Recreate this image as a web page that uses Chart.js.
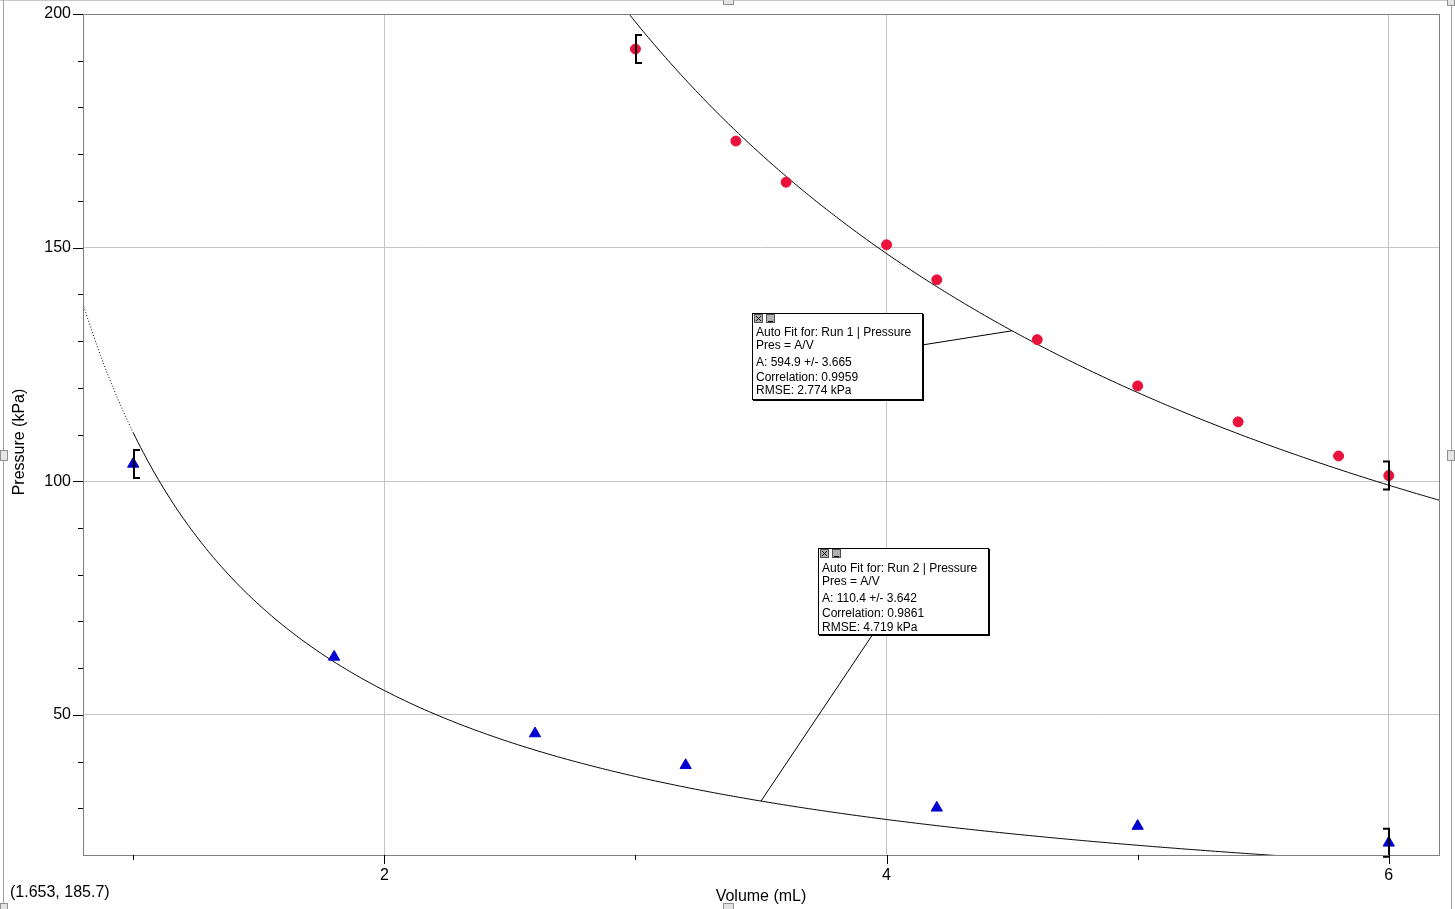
<!DOCTYPE html>
<html>
<head>
<meta charset="utf-8">
<script src="https://cdn.jsdelivr.net/npm/chart.js@4.4.1/dist/chart.umd.min.js"></script>
<style>
    html, body { margin: 0; padding: 0; background: #fff; overflow: hidden; }
    #contenedor { position: relative; width: 1455px; height: 909px; }
</style>
</head>
<body>
<div id="contenedor"><canvas id="grafica"></canvas></div>
<script>
// Run 1 (círculos rojos)
const run1Volumen = [3.0, 3.4, 3.6, 4.0, 4.2, 4.6, 5.0, 5.4, 5.8, 6.0];
const run1Presion = [192.5, 172.8, 164.0, 150.6, 143.1, 130.3, 120.4, 112.7, 105.4, 101.2];

// Run 2 (triángulos azules)
const run2Volumen = [1.0, 1.8, 2.6, 3.2, 4.2, 5.0, 6.0];
const run2Presion = [103.7, 62.4, 46.0, 39.2, 30.1, 26.2, 22.6];

// Parámetros de los ajustes Pres = A/V
const ajusteA = [594.9, 110.4];
const ajusteTextos = [
    ['Auto Fit for: Run 1 | Pressure', 'Pres = A/V', 'A: 594.9 +/- 3.665', 'Correlation: 0.9959', 'RMSE: 2.774 kPa'],
    ['Auto Fit for: Run 2 | Pressure', 'Pres = A/V', 'A: 110.4 +/- 3.642', 'Correlation: 0.9861', 'RMSE: 4.719 kPa']
];
const ajusteAncla = [4.5, 3.5]; // volumen donde la línea de la caja toca la curva

// Marcas de los ejes
const xMarcas = [2, 4, 6];
const xMarcasMenores = [1, 3, 5];
const yMarcas = [50, 100, 150, 200];
const yMarcasMenores = [30, 40, 60, 70, 80, 90, 110, 120, 130, 140, 160, 170, 180, 190];

const coordenadas = '(1.653, 185.7)';
const fuente = '"Liberation Sans", Arial, sans-serif';

// curva del ajuste A/V sobre un intervalo de volumen
function curvaAjuste(A, desde, hasta) {
    const puntos = [];
    for (let v = desde; v <= hasta + 1e-9; v += 0.01) {
        puntos.push({ x: v, y: A / v });
    }
    return puntos;
}

const puntosRun1 = run1Volumen.map((v, i) => ({ x: v, y: run1Presion[i] }));
const puntosRun2 = run2Volumen.map((v, i) => ({ x: v, y: run2Presion[i] }));

function caja(ctx, x, y, w, h, lineas, offsets) {
    ctx.save();
    ctx.fillStyle = '#fff';
    ctx.fillRect(x, y, w, h);
    ctx.strokeStyle = '#000';
    ctx.lineWidth = 1;
    ctx.strokeRect(x + 0.5, y + 0.5, w, h);
    ctx.fillStyle = '#000';
    ctx.fillRect(x + w, y + 1, 2, h + 1);
    ctx.fillRect(x + 1, y + h, w + 1, 2);
    // botones pequeños
    [0, 12].forEach((dx, k) => {
        ctx.fillStyle = '#b0b0b0';
        ctx.fillRect(x + 2 + dx, y + 1, 9, 9);
        ctx.strokeStyle = '#505050';
        ctx.strokeRect(x + 2.5 + dx, y + 1.5, 8, 8);
        ctx.beginPath();
        if (k === 0) {
            ctx.moveTo(x + 4 + dx, y + 3); ctx.lineTo(x + 9 + dx, y + 8);
            ctx.moveTo(x + 9 + dx, y + 3); ctx.lineTo(x + 4 + dx, y + 8);
        } else {
            ctx.moveTo(x + 4 + dx, y + 8.5); ctx.lineTo(x + 9 + dx, y + 8.5);
        }
        ctx.strokeStyle = '#000';
        ctx.stroke();
    });
    ctx.fillStyle = '#000';
    ctx.font = '12px ' + fuente;
    ctx.textBaseline = 'middle';
    ctx.textAlign = 'left';
    lineas.forEach((t, i) => ctx.fillText(t, x + 4, y + offsets[i]));
    ctx.restore();
}

const decoracion = {
    id: 'decoracion',
    afterDatasetsDraw(chart) {
        const { ctx, scales } = chart;
        const sx = scales.x, sy = scales.y;
        ctx.save();
        // corchetes de la región seleccionada
        ctx.strokeStyle = '#000';
        ctx.lineWidth = 2;
        const corchete = (v, p, izquierdo) => {
            const px = Math.round(sx.getPixelForValue(v)) + (izquierdo ? 1 : 0);
            const py = sy.getPixelForValue(p);
            const d = izquierdo ? 6 : -6;
            ctx.beginPath();
            ctx.moveTo(px + d, py - 14);
            ctx.lineTo(px, py - 14);
            ctx.lineTo(px, py + 14);
            ctx.lineTo(px + d, py + 14);
            ctx.stroke();
        };
        corchete(run1Volumen[0], run1Presion[0], true);
        corchete(run1Volumen[run1Volumen.length - 1], run1Presion[run1Presion.length - 1], false);
        corchete(run2Volumen[0], run2Presion[0], true);
        corchete(run2Volumen[run2Volumen.length - 1], run2Presion[run2Presion.length - 1], false);
        ctx.restore();
    },
    afterDraw(chart) {
        const { ctx, chartArea, scales } = chart;
        const sx = scales.x, sy = scales.y;
        ctx.save();
        // borde del área
        ctx.strokeStyle = '#808080';
        ctx.lineWidth = 1;
        ctx.strokeRect(chartArea.left + 0.5, chartArea.top + 0.5, chartArea.right - chartArea.left, chartArea.bottom - chartArea.top);

        // marcas de los ejes
        ctx.strokeStyle = '#000';
        ctx.beginPath();
        xMarcas.concat(xMarcasMenores).forEach(v => {
            const px = Math.round(sx.getPixelForValue(v)) + 0.5;
            const largo = xMarcas.includes(v) ? 9 : 5;
            ctx.moveTo(px, chartArea.bottom);
            ctx.lineTo(px, chartArea.bottom + largo);
        });
        yMarcas.concat(yMarcasMenores).forEach(v => {
            const py = Math.round(sy.getPixelForValue(v)) + 0.5;
            const largo = yMarcas.includes(v) ? 10 : 5;
            ctx.moveTo(chartArea.left, py);
            ctx.lineTo(chartArea.left - largo, py);
        });
        ctx.stroke();

        // líneas de las cajas a la curva
        ctx.lineWidth = 1;
        ctx.strokeStyle = '#000';
        const a1x = sx.getPixelForValue(ajusteAncla[0]), a1y = sy.getPixelForValue(ajusteA[0] / ajusteAncla[0]);
        const a2x = sx.getPixelForValue(ajusteAncla[1]), a2y = sy.getPixelForValue(ajusteA[1] / ajusteAncla[1]);
        ctx.beginPath();
        ctx.moveTo(922, 345); ctx.lineTo(a1x, a1y);
        ctx.moveTo(873, 634); ctx.lineTo(a2x, a2y);
        ctx.stroke();

        caja(ctx, 752, 313, 170, 86, ajusteTextos[0], [20, 33, 50, 65, 78]);
        caja(ctx, 818, 548, 170, 86, ajusteTextos[1], [21, 34, 51, 66, 80]);

        // textos
        ctx.fillStyle = '#000';
        ctx.font = '16px ' + fuente;
        ctx.textBaseline = 'middle';
        ctx.textAlign = 'left';
        ctx.fillText(coordenadas, 10, 893);
        ctx.textAlign = 'center';
        ctx.fillText('Volume (mL)', (chartArea.left + chartArea.right) / 2, 897);
        ctx.save();
        ctx.translate(20, 442);
        ctx.rotate(-Math.PI / 2);
        ctx.fillText('Pressure (kPa)', 0, 0);
        ctx.restore();

        // marco de la ventana
        ctx.fillStyle = '#c8c8c8';
        ctx.fillRect(0, 0, 1455, 1);
        ctx.fillStyle = '#a0a0a0';
        ctx.fillRect(3, 0, 1, 909);
        ctx.fillRect(1451, 0, 1, 909);
        ctx.fillStyle = '#e4e4e4';
        ctx.strokeStyle = '#909090';
        [[723, -1, 11, 6], [0, 450, 8, 11], [1447, 450, 8, 11], [723, 903, 11, 7], [0, 903, 8, 7], [1447, -1, 8, 7]].forEach(r => {
            ctx.fillRect(r[0], r[1], r[2], r[3]);
            ctx.strokeRect(r[0] + 0.5, r[1] + 0.5, r[2] - 1, r[3] - 1);
        });
        ctx.restore();
    }
};

const ctx = document.getElementById('grafica').getContext('2d');
new Chart(ctx, {
    type: 'scatter',
    data: {
        datasets: [
            {
                label: 'Run 1',
                data: puntosRun1,
                pointStyle: 'circle',
                pointRadius: 5,
                pointBackgroundColor: '#e8123c',
                pointBorderColor: '#e8123c',
                order: 0
            },
            {
                label: 'Run 2',
                data: puntosRun2,
                pointStyle: 'triangle',
                pointRadius: 6.5,
                pointBackgroundColor: '#0000d0',
                pointBorderColor: '#0000d0',
                order: 0
            },
            {
                label: 'Ajuste Run 1',
                data: curvaAjuste(ajusteA[0], 0.8, 6.2),
                showLine: true,
                borderColor: '#000',
                borderWidth: 1,
                pointRadius: 0,
                order: 1
            },
            {
                label: 'Ajuste Run 2',
                data: curvaAjuste(ajusteA[1], run2Volumen[0], 6.2),
                showLine: true,
                borderColor: '#000',
                borderWidth: 1,
                pointRadius: 0,
                order: 1
            },
            {
                label: 'Ajuste Run 2 (extrapolado)',
                data: curvaAjuste(ajusteA[1], 0.8, run2Volumen[0]),
                showLine: true,
                borderColor: '#000',
                borderWidth: 1,
                borderDash: [1, 2],
                pointRadius: 0,
                order: 1
            }
        ]
    },
    options: {
        responsive: true,
        maintainAspectRatio: false,
        animation: false,
        layout: { padding: { left: 0, top: 14, right: 16, bottom: 0 } },
        plugins: {
            legend: { display: false },
            tooltip: { enabled: false },
            title: { display: false }
        },
        scales: {
            x: {
                type: 'linear',
                min: 0.8,
                max: 6.2,
                afterBuildTicks: s => { s.ticks = xMarcas.map(v => ({ value: v })); },
                afterFit: s => { s.height = 54; s.paddingLeft = 0; s.paddingRight = 0; },
                ticks: { color: '#000', font: { size: 16, family: fuente }, padding: 11, maxRotation: 0 },
                grid: { color: '#c4c4c4', drawTicks: false },
                border: { display: true, color: '#808080' }
            },
            y: {
                type: 'linear',
                min: 20,
                max: 200,
                afterBuildTicks: s => { s.ticks = yMarcas.map(v => ({ value: v })); },
                afterFit: s => { s.width = 83; s.paddingTop = 0; s.paddingBottom = 0; },
                ticks: { color: '#000', font: { size: 16, family: fuente }, padding: 12 },
                grid: { color: '#c4c4c4', drawTicks: false },
                border: { display: true, color: '#808080' }
            }
        }
    },
    plugins: [decoracion]
});
</script>
</body>
</html>
